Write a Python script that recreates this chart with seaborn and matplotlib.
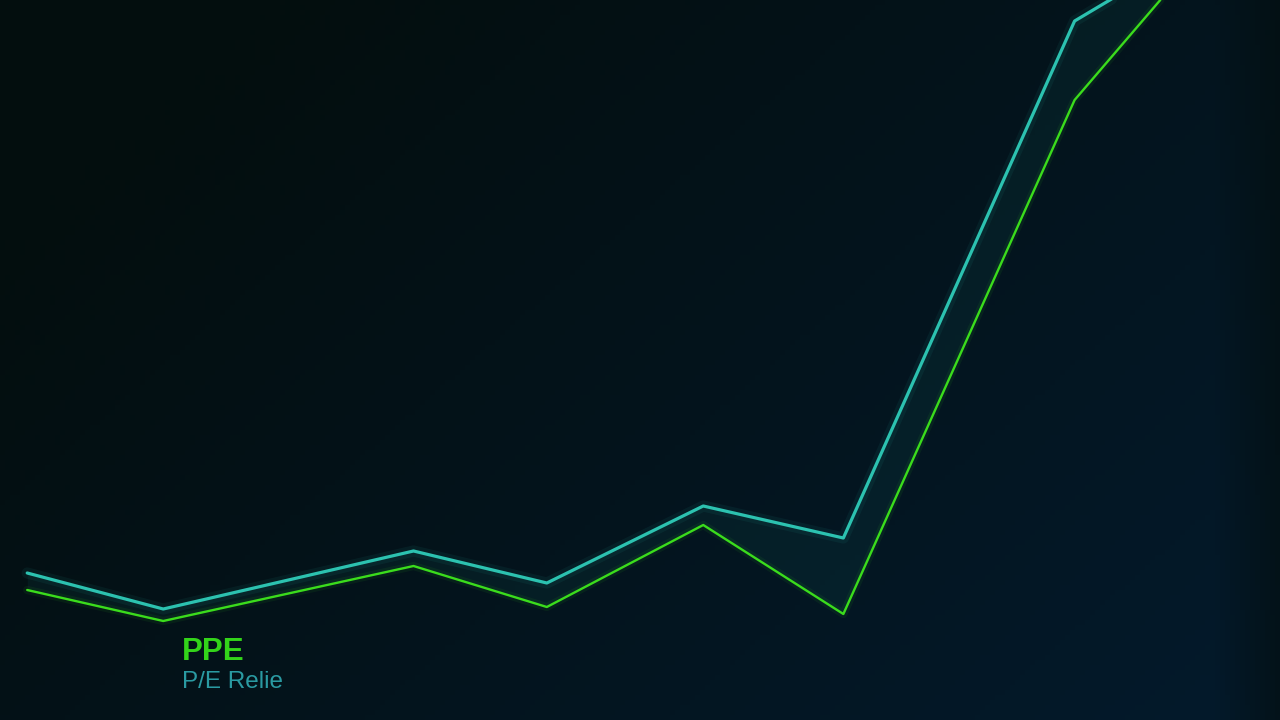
import matplotlib
matplotlib.use("Agg")
import matplotlib.pyplot as plt
import numpy as np
import pandas as pd
import seaborn as sns

# values (no axes shown in the original)
periods = [0, 1, 2.84, 3.82, 4.97, 6.0, 7.7, 8.33]
pe_ratio = [14.7, 11.1, 16.9, 13.7, 21.4, 18.2, 69.9, 75.0]
ppe = [13.0, 9.9, 15.4, 11.3, 19.5, 10.6, 62.0, 72.0]

teal = "#2cc2b0"
green = "#3bdc1c"

df = pd.DataFrame({"period": periods, "P/E Ratio": pe_ratio, "PPE": ppe})

sns.set_style("dark", {"axes.facecolor": "#03111a", "figure.facecolor": "#03111a"})
plt.rcParams["font.family"] = ["Liberation Sans", "DejaVu Sans"]

fig = plt.figure(figsize=(12.8, 7.2), dpi=100)
ax = fig.add_axes([0, 0, 1, 1])

# background gradient: near-black green top-left to dark navy bottom-right,
# with a slightly darker band at the far right edge
gx = np.linspace(0, 1, 256)
gy = np.linspace(0, 1, 144)
X, Y = np.meshgrid(gx, gy)
t = np.clip(0.7 * X + 0.45 * Y - 0.15, 0, 1)
t = t * (1 - 0.6 * np.clip((X - 0.95) / 0.05, 0, 1))
c0 = np.array([0x03, 0x0e, 0x0e]) / 255
c1 = np.array([0x03, 0x1a, 0x2c]) / 255
img = c0[None, None, :] * (1 - t[..., None]) + c1[None, None, :] * t[..., None]
ax.imshow(img, extent=[-0.2, 9.21, 0, 72], aspect="auto", origin="upper", zorder=0)

ax.fill_between(df["period"], df["PPE"], df["P/E Ratio"], color=teal, alpha=0.06, lw=0, zorder=1)

for col, c, lw in [("P/E Ratio", teal, 2.3), ("PPE", green, 1.7)]:
    sns.lineplot(data=df, x="period", y=col, ax=ax, color=c, lw=lw * 3.5, alpha=0.07, zorder=2)
    sns.lineplot(data=df, x="period", y=col, ax=ax, color=c, lw=lw, zorder=3)

ax.set_xlim(-0.2, 9.21)
ax.set_ylim(0, 72)
ax.set_xlabel("")
ax.set_ylabel("")
ax.set_xticks([])
ax.set_yticks([])
for s in ax.spines.values():
    s.set_visible(False)

ax.text(0.142, 0.094, "PPE", transform=ax.transAxes, color="#33d41a", fontsize=22.5,
        fontweight="bold", va="center", ha="left")
ax.text(0.142, 0.053, "P/E Relie", transform=ax.transAxes, color="#2a9aa2", fontsize=17.5,
        va="center", ha="left")

fig.savefig("out.png", dpi=100)
